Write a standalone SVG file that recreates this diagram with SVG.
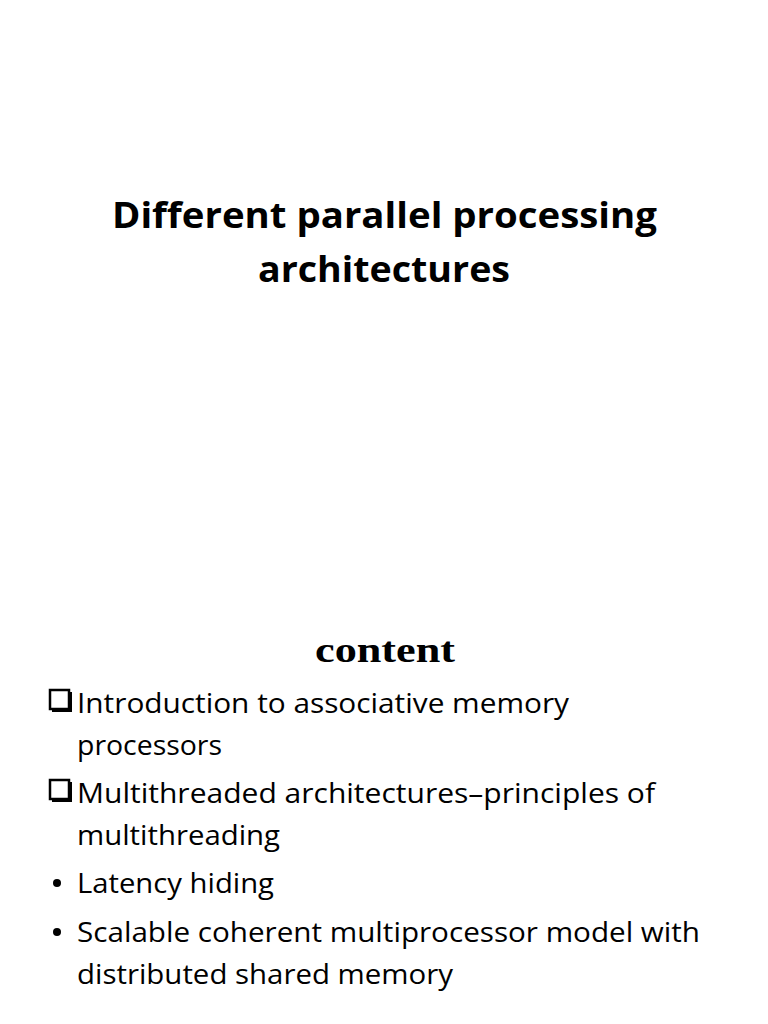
<svg xmlns="http://www.w3.org/2000/svg" width="768" height="1024" viewBox="0 0 768 1024">
<style>
.t{font-family:"Open Sans","Liberation Sans",sans-serif;font-weight:bold;font-size:36px;fill:#000}
.b{font-family:"Open Sans","Liberation Sans",sans-serif;font-size:27px;fill:#000}
.h{font-family:"Liberation Serif",serif;font-weight:bold;font-size:36px;fill:#000}
.box{fill:#fff;stroke:#000;stroke-width:2.5}
</style>
<rect width="768" height="1024" fill="#fff"/>
<g id="title">
<text class="t" x="112" y="228" textLength="545" lengthAdjust="spacingAndGlyphs">Different parallel processing</text>
<text class="t" x="258" y="282" textLength="252" lengthAdjust="spacingAndGlyphs">architectures</text>
</g>
<g id="heading"><text class="h" x="315" y="662" textLength="140" lengthAdjust="spacingAndGlyphs">content</text></g>
<g id="bullets">
<rect x="52" y="692" width="20" height="20" fill="#000"/><rect class="box" x="50" y="690" width="19" height="19"/>
<text class="b" x="77" y="713" textLength="492" lengthAdjust="spacingAndGlyphs">Introduction to associative memory</text>
<text class="b" x="77" y="755" textLength="145" lengthAdjust="spacingAndGlyphs">processors</text>
<rect x="52" y="782" width="20" height="20" fill="#000"/><rect class="box" x="50" y="780" width="19" height="19"/>
<text class="b" x="77" y="803" textLength="578" lengthAdjust="spacingAndGlyphs">Multithreaded architectures–principles of</text>
<text class="b" x="77" y="845" textLength="203" lengthAdjust="spacingAndGlyphs">multithreading</text>
<circle cx="57" cy="883" r="4" fill="#000"/>
<text class="b" x="77" y="893" textLength="197" lengthAdjust="spacingAndGlyphs">Latency hiding</text>
<circle cx="57" cy="932" r="4" fill="#000"/>
<text class="b" x="77" y="942" textLength="623" lengthAdjust="spacingAndGlyphs">Scalable coherent multiprocessor model with</text>
<text class="b" x="77" y="984" textLength="376" lengthAdjust="spacingAndGlyphs">distributed shared memory</text>
</g>
</svg>
